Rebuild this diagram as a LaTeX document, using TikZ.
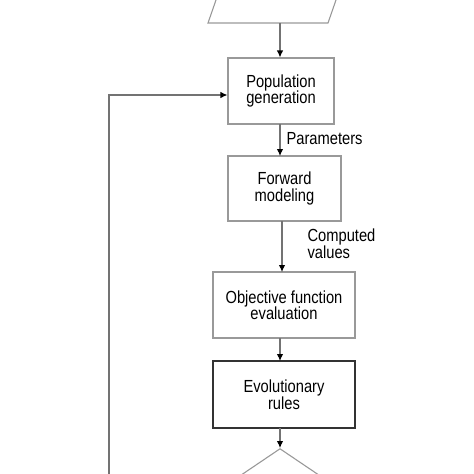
\documentclass[tikz,border=0pt]{standalone}
\usepackage{fontspec}
\setmainfont{Liberation Sans}[FakeStretch=0.84]
\usetikzlibrary{arrows.meta,shapes.geometric}

\begin{document}
\begin{tikzpicture}[x=1pt,y=-1pt,
    box/.style={draw=black!40,line width=1.1pt,align=center,inner sep=0pt,
      font=\fontsize{17.5}{16.5}\selectfont},
    lbl/.style={align=left,anchor=west,inner sep=0pt,font=\fontsize{17.5}{16.5}\selectfont},
    flow/.style={draw=black!55,line width=1.1pt,-{Latex[length=7pt,width=6.5pt,black]}}]
  \useasboundingbox (0,0) rectangle (474,474);

  % input parallelogram (top is cut off)
  \draw[black!40,line width=1.1pt] (208,23) -- (328,23) -- (352,-46) -- (232,-46) -- cycle;
  \coordinate (in) at (280,23);

  \node[box,minimum width=106,minimum height=66] (pop) at (281,91) {Population\\generation};
  \node[box,minimum width=113,minimum height=65] (fwd) at (284.5,188.5) {Forward\\modeling};
  \node[box,minimum width=142,minimum height=66] (obj) at (284,305) {Objective function\\evaluation};
  \node[box,draw=black!80,line width=1.4pt,minimum width=142,minimum height=67] (evo) at (284,394.5) {Evolutionary\\rules};
  \node[draw=black!40,line width=1.1pt,diamond,inner sep=0pt,minimum width=133,minimum height=90,anchor=north] (test) at (280,448) {};
  \coordinate (back) at (109,480);

  \draw[flow] (in) -- (in |- pop.north);
  \draw[flow] (280,124) -- (280,156) node[lbl,pos=0.45,xshift=6pt] (par) {Parameters};
  \draw[flow] (282,221) -- (282,272) node[lbl,pos=0.45,xshift=25pt] (cv) {Computed\\values};
  \draw[flow] (280,338) -- (280,361);
  \draw[flow] (280,428) -- (test.north);
  \draw[flow] (back) -- (109,95) -- (pop.west |- 0,95);
\end{tikzpicture}
\end{document}
